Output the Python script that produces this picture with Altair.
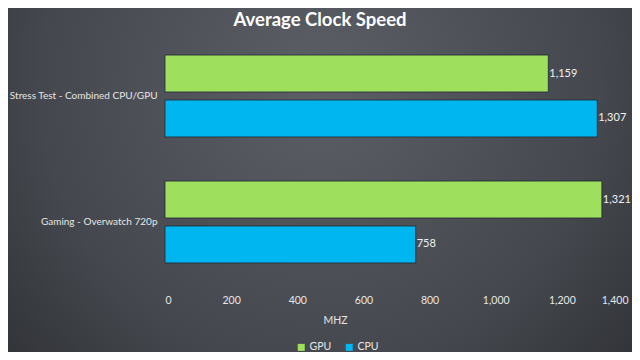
import altair as alt
import pandas as pd

categories = ["Stress Test - Combined CPU/GPU", "Gaming - Overwatch 720p"]
series = ["GPU", "CPU"]
gpu_values = [1159, 1321]
cpu_values = [1307, 758]
x_ticks = [0, 200, 400, 600, 800, 1000, 1200, 1400]
title_text = "Average Clock Speed"

rows = []
for c, g, p in zip(categories, gpu_values, cpu_values):
    rows.append({"cat": c, "series": "GPU", "mhz": g})
    rows.append({"cat": c, "series": "CPU", "mhz": p})
df = pd.DataFrame(rows)

FONT = "Lato"
W, H = 463, 252
PL, PT = 157, 25
PR, PB = 4, 67

one = pd.DataFrame({"a": [0]})

bg = alt.Chart(one).mark_rect(
    fill=alt.Gradient(
        gradient="radial",
        x1=0.5, y1=0.35, r1=0.0,
        x2=0.5, y2=0.35, r2=0.75,
        stops=[
            alt.GradientStop(offset=0, color="#5c5f66"),
            alt.GradientStop(offset=0.6, color="#44474d"),
            alt.GradientStop(offset=1, color="#2a2c30"),
        ],
    )
).encode(
    x=alt.value(-PL), x2=alt.value(W + PR),
    y=alt.value(-PT), y2=alt.value(H + PB),
)

title = alt.Chart(one).mark_text(
    align="center", baseline="alphabetic", color="#ffffff", font=FONT,
    fontSize=18.5, fontWeight="bold"
).encode(
    x=alt.value(320 - 8 - PL), y=alt.value(-7),
    text=alt.value(title_text),
)

base = alt.Chart(df).encode(
    y=alt.Y("cat:N", sort=categories, title=None,
            scale=alt.Scale(paddingInner=0.35, paddingOuter=0.175),
            axis=alt.Axis(domain=False, ticks=False, labelColor="#e6e6e6",
                          labelFont=FONT, labelFontSize=10, labelPadding=8,
                          labelLimit=200, zindex=1)),
    yOffset=alt.YOffset("series:N", sort=series,
                        scale=alt.Scale(paddingInner=0.178, paddingOuter=0)),
)

bars = base.mark_bar(stroke="#1f2a30", strokeWidth=0.8).encode(
    x=alt.X("mhz:Q", title="MHZ",
            scale=alt.Scale(domain=[0, 1400], nice=False),
            axis=alt.Axis(values=x_ticks, format=",.0f", domain=False, ticks=False,
                          grid=False, labelColor="#e6e6e6", labelFont=FONT,
                          labelFontSize=10.5, labelPadding=10,
                          titleColor="#e6e6e6", titleFont=FONT, titleFontSize=10.5,
                          titleFontWeight="normal", titlePadding=10,
                          titleX=170, zindex=1)),
    color=alt.Color("series:N", sort=series,
                    scale=alt.Scale(domain=series, range=["#9ee05e", "#00b6f0"]),
                    legend=alt.Legend(title=None, orient="none", direction="horizontal",
                                      legendX=131, legendY=309, symbolType="square",
                                      symbolSize=49, symbolStrokeWidth=0,
                                      labelColor="#e6e6e6", labelFont=FONT,
                                      labelFontSize=10.5, columnPadding=12,
                                      labelOffset=3, padding=0, zindex=1)),
)

labels = base.mark_text(align="left", baseline="middle", dx=1, color="#f2f2f2",
                        font=FONT, fontSize=11).encode(
    x="mhz:Q",
    text=alt.Text("mhz:Q", format=",.0f"),
)

chart = alt.layer(bg, title, bars, labels).properties(
    width=W, height=H,
    padding={"left": PL, "top": PT, "right": PR, "bottom": PB},
    autosize=alt.AutoSizeParams(type="none"),
).configure(background="#3a3c41").configure_view(stroke=None)

chart.save("out.html", embed_options={"renderer": "svg", "actions": False})
